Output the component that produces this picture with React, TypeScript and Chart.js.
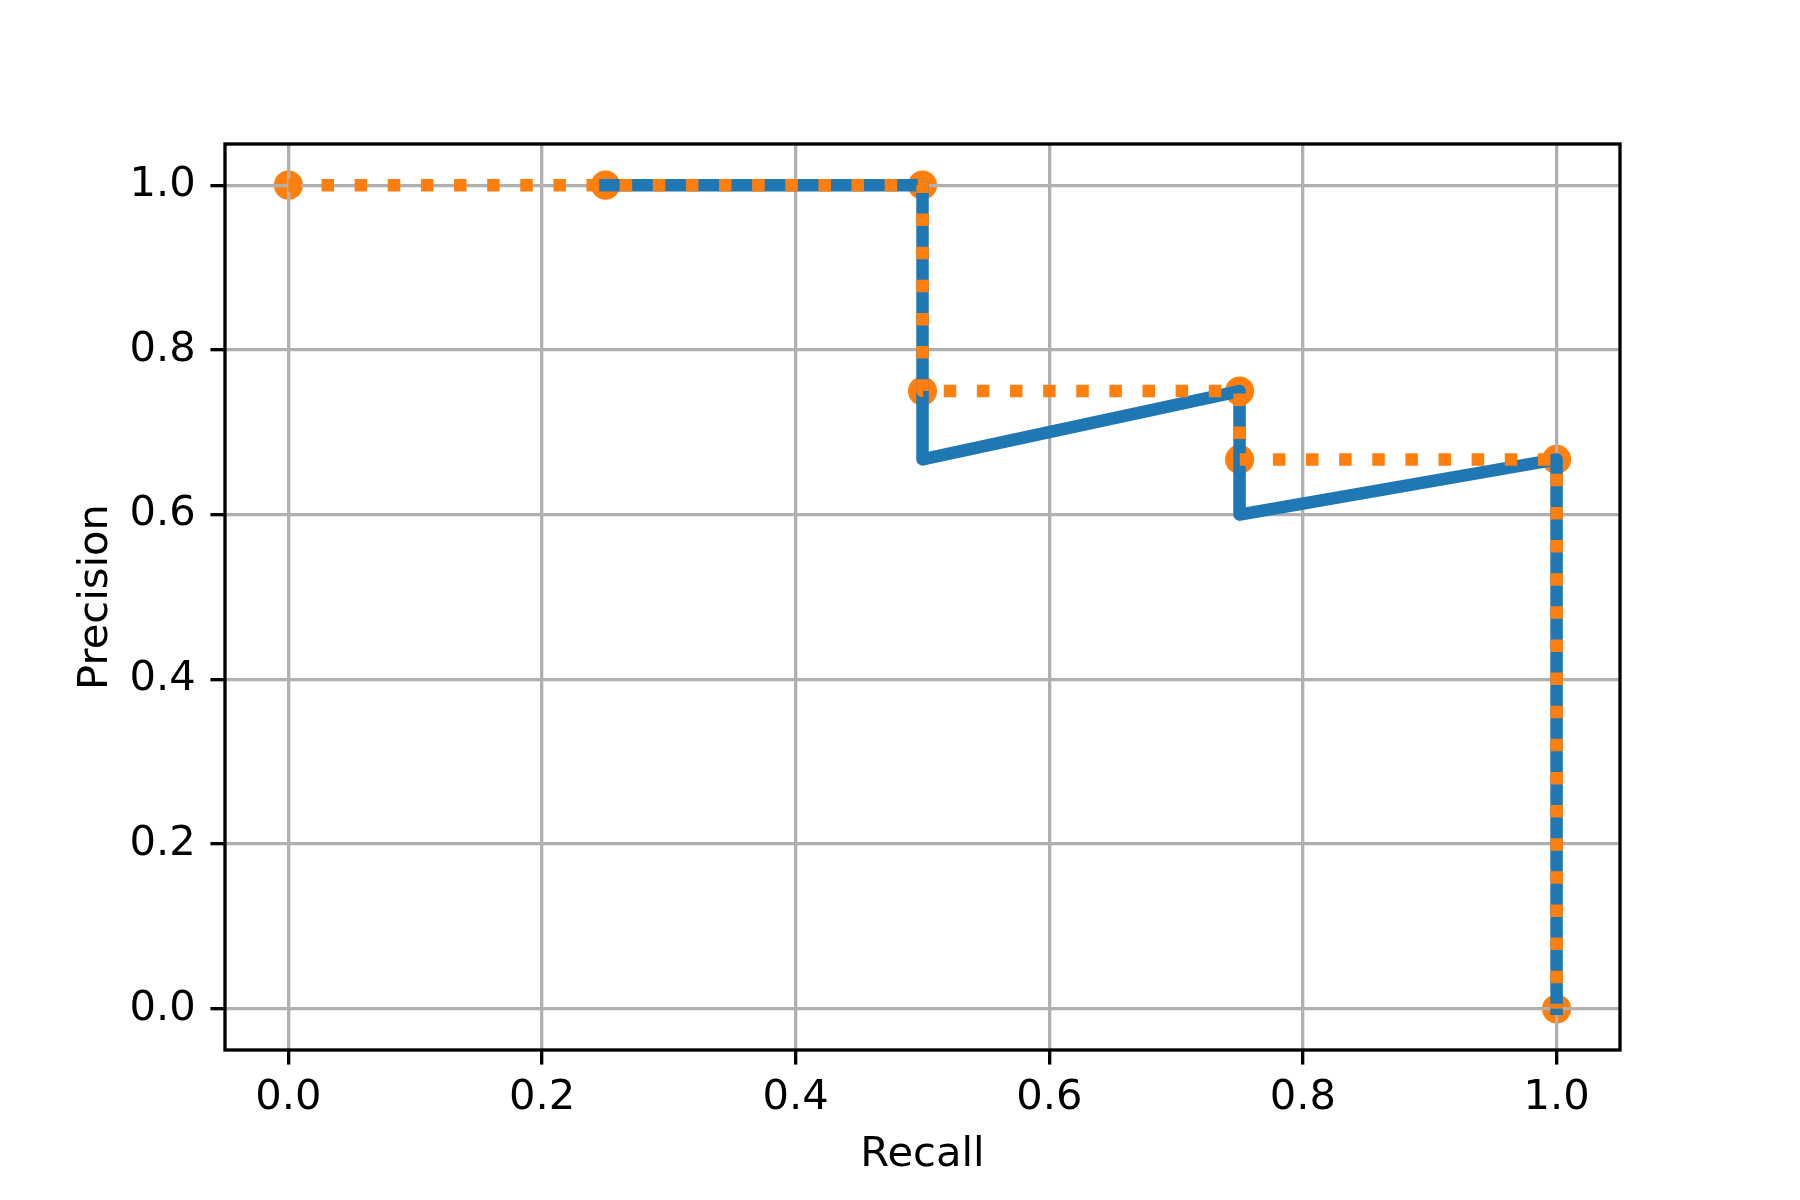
import { useEffect, useRef } from 'react'
import { Chart, registerables, type ChartConfiguration, type Plugin } from 'chart.js'

Chart.register(...registerables)

// interpolated precision (orange, dotted + markers)
const recallInterp = [0, 0.25, 0.5, 0.5, 0.75, 0.75, 1.0, 1.0]
const precisionInterp = [1.0, 1.0, 1.0, 0.75, 0.75, 0.667, 0.667, 0.0]

// raw precision-recall curve (blue)
const recallRaw = [0.25, 0.5, 0.5, 0.75, 0.75, 1.0, 1.0]
const precisionRaw = [1.0, 1.0, 0.667, 0.75, 0.6, 0.667, 0.0]

const xTicks = [0, 0.2, 0.4, 0.6, 0.8, 1.0]
const yTicks = [0, 0.2, 0.4, 0.6, 0.8, 1.0]
const xTickLabels = ['0.0', '0.2', '0.4', '0.6', '0.8', '1.0']
const yTickLabels = ['0.0', '0.2', '0.4', '0.6', '0.8', '1.0']

const BLUE = '#1f77b4'
const ORANGE = '#ff7f0e'
const GRID = '#b0b0b0'
const FONT = 'DejaVu Sans'
const PT = 300 / 72 // px per point at 300 dpi
const MARKER_INDEX = 2

const toPoints = (xs: number[], ys: number[]) => xs.map((x, i) => ({ x, y: ys[i] }))

// matplotlib draws the scatter markers below the grid, the lines above it
const markersUnderGrid: Plugin<'scatter'> = {
  id: 'markersUnderGrid',
  beforeDraw(chart) {
    const meta = chart.getDatasetMeta(MARKER_INDEX)
    meta.controller.draw()
  },
  beforeDatasetDraw(_chart, args) {
    if (args.index === MARKER_INDEX) return false
  },
}

const frame: Plugin<'scatter'> = {
  id: 'frame',
  afterDatasetsDraw(chart) {
    const { ctx, chartArea: a } = chart
    ctx.save()
    ctx.strokeStyle = '#000'
    ctx.lineWidth = 0.8 * PT
    ctx.lineJoin = 'miter'
    ctx.strokeRect(a.left, a.top, a.right - a.left, a.bottom - a.top)
    ctx.restore()
  },
}

export default function App() {
  const canvasRef = useRef<HTMLCanvasElement>(null)

  useEffect(() => {
    const canvas = canvasRef.current
    if (!canvas) return

    const tickFont = { family: FONT, size: 10 * PT, lineHeight: 1.2 }

    const config: ChartConfiguration<'scatter'> = {
      type: 'scatter',
      data: {
        datasets: [
          {
            label: 'interpolated',
            data: toPoints(recallInterp, precisionInterp),
            showLine: true,
            borderColor: ORANGE,
            borderWidth: 3 * PT,
            borderDash: [3 * PT, 4.95 * PT],
            borderCapStyle: 'butt',
            borderJoinStyle: 'round',
            pointRadius: 0,
            tension: 0,
            order: 0,
          },
          {
            label: 'precision',
            data: toPoints(recallRaw, precisionRaw),
            showLine: true,
            borderColor: BLUE,
            borderWidth: 3 * PT,
            borderCapStyle: 'square',
            borderJoinStyle: 'round',
            pointRadius: 0,
            tension: 0,
            order: 1,
          },
          {
            label: 'markers',
            data: toPoints(recallInterp, precisionInterp),
            showLine: false,
            backgroundColor: ORANGE,
            borderColor: ORANGE,
            pointRadius: 3.5 * PT,
            pointBorderWidth: 0,
            order: 2,
          },
        ],
      },
      options: {
        animation: false,
        responsive: false,
        devicePixelRatio: 1,
        layout: { padding: { top: 144, right: 180, left: 0, bottom: 0 } },
        plugins: { legend: { display: false }, tooltip: { enabled: false } },
        datasets: { scatter: { clip: false } },
        scales: {
          x: {
            type: 'linear',
            position: 'bottom',
            min: -0.05,
            max: 1.05,
            afterBuildTicks: (axis) => {
              axis.ticks = xTicks.map((value) => ({ value }))
            },
            afterFit: (axis) => {
              axis.height = 150
            },
            ticks: {
              color: '#000',
              font: tickFont,
              padding: 8.5,
              maxRotation: 0,
              autoSkip: false,
              callback: (_v, i) => xTickLabels[i],
            },
            grid: {
              color: GRID,
              lineWidth: 0.8 * PT,
              drawTicks: true,
              tickLength: 3.5 * PT,
              tickColor: '#000',
              tickWidth: 0.8 * PT,
            },
            border: { display: false },
            title: {
              display: true,
              text: 'Recall',
              color: '#000',
              font: { family: FONT, size: 10 * PT, lineHeight: 1.2 },
              padding: { top: 0, bottom: 19.5 },
            },
          },
          y: {
            type: 'linear',
            position: 'left',
            min: -0.05,
            max: 1.05,
            afterBuildTicks: (axis) => {
              axis.ticks = yTicks.map((value) => ({ value }))
            },
            afterFit: (axis) => {
              axis.width = 225
            },
            ticks: {
              color: '#000',
              font: tickFont,
              padding: 3.5 * PT,
              autoSkip: false,
              callback: (_v, i) => yTickLabels[i],
            },
            grid: {
              color: GRID,
              lineWidth: 0.8 * PT,
              drawTicks: true,
              tickLength: 3.5 * PT,
              tickColor: '#000',
              tickWidth: 0.8 * PT,
            },
            border: { display: false },
            title: {
              display: true,
              text: 'Precision',
              color: '#000',
              font: { family: FONT, size: 10 * PT, lineHeight: 1.2 },
              padding: { top: 71, bottom: 0 },
            },
          },
        },
      },
      plugins: [markersUnderGrid, frame],
    }

    const chart = new Chart(canvas, config)
    return () => chart.destroy()
  }, [])

  return (
    <div style={{ position: 'absolute', left: 0, top: 0, width: 1800, height: 1200, background: '#fff' }}>
      <canvas ref={canvasRef} width={1800} height={1200} style={{ display: 'block', background: '#fff' }} />
    </div>
  )
}
